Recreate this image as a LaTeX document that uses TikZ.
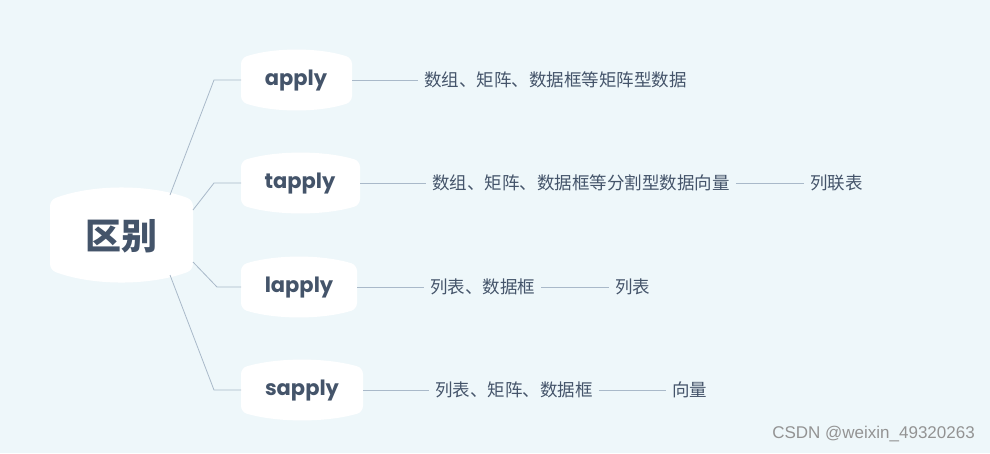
\documentclass[tikz,border=0pt]{standalone}
\usepackage{fontspec}
\setmainfont{Poppins}
\newfontfamily\cjk{Noto Sans CJK SC}
\newfontfamily\wmfont{Liberation Sans}
\begin{document}
\begin{tikzpicture}[x=1pt,y=-1pt,
  conn/.style={draw=linec,line width=0.8pt},
  lbl/.style={text=txt,font=\bfseries\fontsize{21}{24}\selectfont,inner sep=0},
  leaf/.style={text=txt,font=\cjk\fontsize{17.5}{20}\selectfont,inner sep=0,anchor=west}]
\definecolor{bg}{HTML}{EEF7FA}
\definecolor{txt}{HTML}{44546A}
\definecolor{linec}{HTML}{A9B9C9}
\fill[bg] (0,0) rectangle (990,453);
\useasboundingbox (0,0) rectangle (990,453);
% blob: x1,x2,yc,halfheight,bulge
\newcommand\myblob[5]{\fill[white,rounded corners=6pt] (#1,#3-#4+#5) .. controls (#1+0.3*#2-0.3*#1,#3-#4-#5/3) and (#2-0.3*#2+0.3*#1,#3-#4-#5/3) .. (#2,#3-#4+#5) -- (#2,#3+#4-#5) .. controls (#2-0.3*#2+0.3*#1,#3+#4+#5/3) and (#1+0.3*#2-0.3*#1,#3+#4+#5/3) .. (#1,#3+#4-#5) -- cycle;}
\myblob{50}{193}{235}{47}{12}
\myblob{241}{352}{80}{30}{8}
\myblob{241}{360}{183}{30}{8}
\myblob{241}{357}{287}{30}{8}
\myblob{241}{363}{390}{30}{8}
\node[text=txt,font=\cjk\bfseries\fontsize{36}{40}\selectfont,inner sep=0] (root) at (121,236) {区别};
\node[lbl] (a) at (296,81) {apply};
\node[lbl] (t) at (300,184) {tapply};
\node[lbl] (l) at (299,288) {lapply};
\node[lbl] (s) at (302,391) {sapply};
\coordinate (ra) at (170,195); \coordinate (ka) at (214,80); \coordinate (ea) at (241,80);
\coordinate (rt) at (193,210); \coordinate (kt) at (214,183); \coordinate (et) at (241,183);
\coordinate (rl) at (193,262); \coordinate (kl) at (217,287); \coordinate (el) at (241,287);
\coordinate (rs) at (170,275); \coordinate (ks) at (214,390); \coordinate (es) at (241,390);
\draw[conn] (ra)--(ka)--(ea);
\draw[conn] (rt)--(kt)--(et);
\draw[conn] (rl)--(kl)--(el);
\draw[conn] (rs)--(ks)--(es);
\node[leaf] (a1) at (424,80) {数组、矩阵、数据框等矩阵型数据};
\node[leaf] (t1) at (432,183) {数组、矩阵、数据框等分割型数据向量};
\node[leaf] (t2) at (810,183) {列联表};
\node[leaf] (l1) at (430,287) {列表、数据框};
\node[leaf] (l2) at (615,287) {列表};
\node[leaf] (s1) at (435,390) {列表、矩阵、数据框};
\node[leaf] (s2) at (672,390) {向量};
\coordinate (ax) at (352,80); \coordinate (tx) at (360,183); \coordinate (lx) at (357,287); \coordinate (sx) at (363,390);
\draw[conn] (ax)--([xshift=-6pt]a1.west);
\draw[conn] (tx)--([xshift=-6pt]t1.west);
\draw[conn] ([xshift=6pt]t1.east)--([xshift=-6pt]t2.west);
\draw[conn] (lx)--([xshift=-6pt]l1.west);
\draw[conn] ([xshift=6pt]l1.east)--([xshift=-6pt]l2.west);
\draw[conn] (sx)--([xshift=-6pt]s1.west);
\draw[conn] ([xshift=6pt]s1.east)--([xshift=-6pt]s2.west);
\node[anchor=east,text=gray!85,font=\wmfont\fontsize{17}{20}\selectfont,inner sep=0] (wm) at (975,434) {CSDN @weixin\_49320263};
\end{tikzpicture}
\end{document}
